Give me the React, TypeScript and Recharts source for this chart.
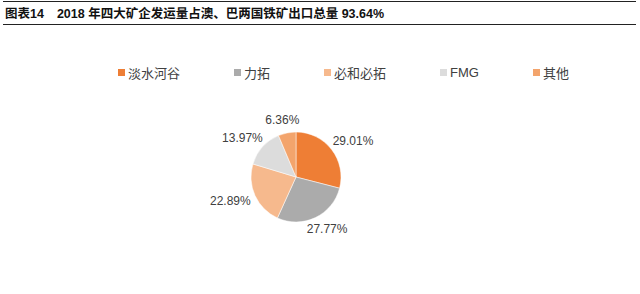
import React from 'react';
import { PieChart, Pie, Cell } from 'recharts';

const categories = ['淡水河谷', '力拓', '必和必拓', 'FMG', '其他'];
const shares = [29.01, 27.77, 22.89, 13.97, 6.36];
const colors = ['#EE7E35', '#ABABAB', '#F6B98D', '#DCDCDC', '#F3A46C'];
const titleLabel = '图表14';
const titleText = '2018 年四大矿企发运量占澳、巴两国铁矿出口总量 93.64%';

const data = categories.map((name, i) => ({ name, value: shares[i] }));

const FONT = '"Liberation Sans", Arial, "Noto Sans CJK SC", sans-serif';

const renderLabel = (props: any) => {
  const { cx, cy, midAngle, outerRadius, value } = props;
  const RAD = Math.PI / 180;
  const ux = Math.cos(-midAngle * RAD);
  const uy = Math.sin(-midAngle * RAD);
  const text = `${Number(value).toFixed(2)}%`;
  const w = text.length * 6.7;
  const h = 12;
  const R = outerRadius + 7;
  const x = cx + R * ux + (w / 2) * ux;
  const y = cy + R * uy + (h / 2) * uy;
  return (
    <text
      x={x}
      y={y}
      textAnchor="middle"
      dominantBaseline="central"
      fill="#404040"
      fontSize={12}
      fontFamily={FONT}
    >
      {text}
    </text>
  );
};

const LegendBox = () => (
  <div
    style={{
      position: 'absolute',
      left: 0,
      top: 62,
      width: 640,
      display: 'flex',
      alignItems: 'center',
      paddingLeft: 118,
      fontFamily: FONT,
      fontSize: 13,
      color: '#404040',
      height: 20,
      boxSizing: 'border-box',
    }}
  >
    {categories.map((c, i) => (
      <div key={c} style={{ display: 'flex', alignItems: 'center', marginRight: 54 }}>
        <span
          style={{
            display: 'inline-block',
            width: 7,
            height: 7,
            background: colors[i],
            marginRight: 3,
          }}
        />
        <span>{c}</span>
      </div>
    ))}
  </div>
);

export default function App() {
  return (
    <div style={{ position: 'absolute', left: 0, top: 0, width: 640, height: 294, background: '#fff' }}>
      <div
        style={{
          position: 'absolute',
          left: 3,
          top: 1,
          width: 633,
          height: 22,
          borderTop: '1.5px solid #222',
          borderBottom: '1.5px solid #222',
        }}
      />
      <div
        style={{
          position: 'absolute',
          left: 5,
          top: 6,
          fontFamily: FONT,
          fontWeight: 'bold',
          fontSize: 12.5,
          lineHeight: '17px',
          color: '#111',
          whiteSpace: 'nowrap',
        }}
      >
        <span>{titleLabel}</span>
        <span style={{ marginLeft: 13 }}>{titleText}</span>
      </div>
      <LegendBox />
      <div style={{ position: 'absolute', left: 0, top: 0 }}>
        <PieChart width={640} height={294} margin={{ top: 0, right: 0, bottom: 0, left: 0 }}>
          <Pie
            data={data}
            dataKey="value"
            nameKey="name"
            cx={296}
            cy={177}
            outerRadius={45}
            startAngle={90}
            endAngle={-270}
            stroke="#ffffff"
            strokeWidth={0.5}
            label={renderLabel}
            labelLine={false}
            isAnimationActive={false}
          >
            {data.map((d, i) => (
              <Cell key={d.name} fill={colors[i]} />
            ))}
          </Pie>
        </PieChart>
      </div>
    </div>
  );
}
